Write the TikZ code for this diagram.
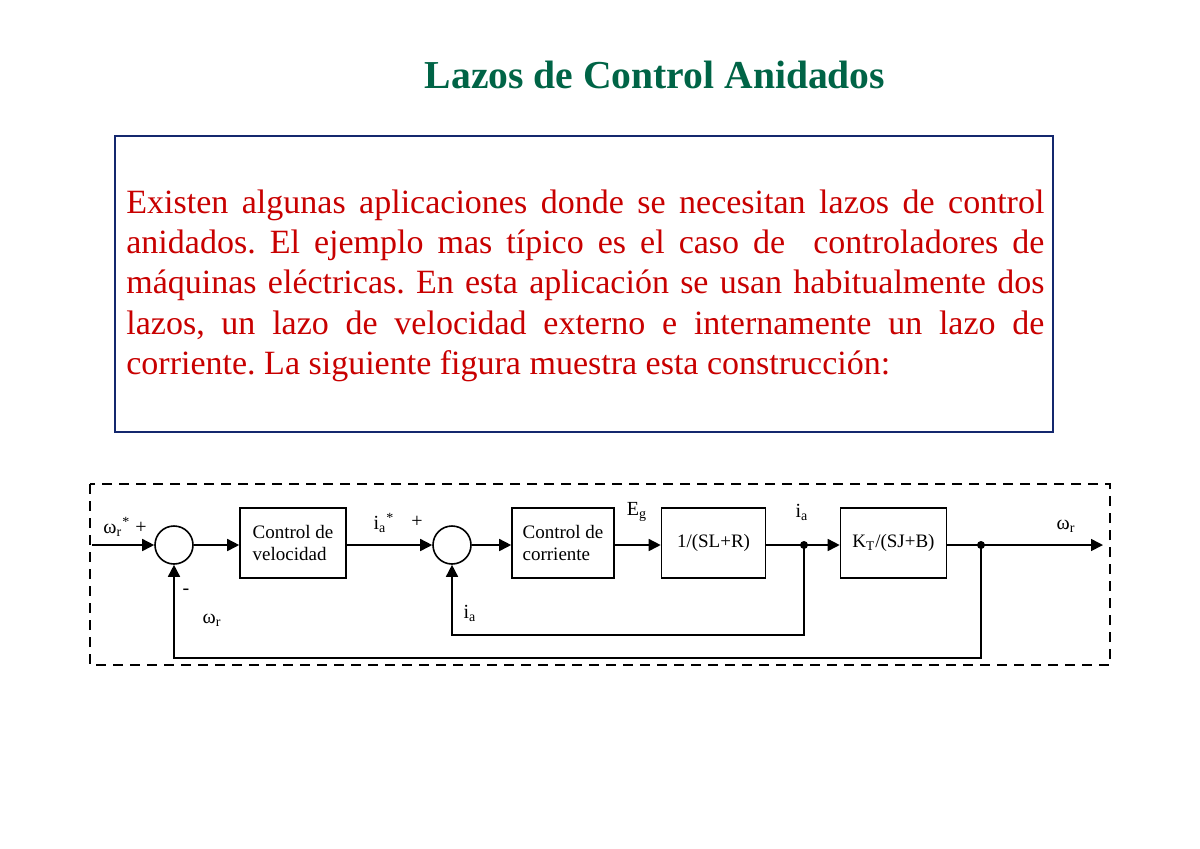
\documentclass[tikz,border=0pt]{standalone}
\usepackage{fontspec}
\setmainfont{Liberation Serif}
\usetikzlibrary{arrows.meta}
\definecolor{tgreen}{RGB}{0,100,70}
\definecolor{tred}{RGB}{200,0,0}
\definecolor{tnavy}{RGB}{20,40,110}
\frenchspacing
\begin{document}
\begin{tikzpicture}[x=0.5pt,y=-0.5pt,
  blk/.style={draw,line width=0.8pt,minimum width=53pt,minimum height=35pt,inner sep=1pt,font=\fontsize{9.5}{11}\selectfont,align=left},
  sumc/.style={draw,circle,line width=0.8pt,minimum size=19pt,inner sep=0pt},
  sig/.style={line width=0.8pt,-{Triangle[length=6pt,width=6pt]}},
  wire/.style={line width=0.8pt},
  lbl/.style={font=\fontsize{10}{12}\selectfont,inner sep=0pt}]
\useasboundingbox (0,0) rectangle (1200,848);
\node[font=\bfseries\fontsize{19.8}{22}\selectfont,text=tgreen] (title) at (655,75) {Lazos de Control Anidados};
\draw[tnavy,line width=1.3pt] (115,136) rectangle (1053,432);
\node[text=tred,font=\fontsize{17}{20.2}\selectfont,text width=459pt,align=justify,inner sep=0pt,anchor=north west] (body) at (126,189)
{Existen algunas aplicaciones donde se necesitan lazos de control\linebreak anidados. El ejemplo mas típico es el caso de\ \ controladores de\linebreak máquinas eléctricas. En esta aplicación se usan habitualmente dos\linebreak lazos, un lazo de velocidad externo e internamente un lazo de\linebreak corriente. La siguiente figura muestra esta construcción:};
\draw[dashed,line width=1.3pt,dash pattern=on 5pt off 3.5pt] (90,484) rectangle (1110,665);
\coordinate (in) at (92,545);
\node[sumc] (s1) at (174,545) {};
\node[blk,minimum width=53pt] (b1) at (293,543) {Control de\\velocidad};
\node[sumc] (s2) at (452,545) {};
\node[blk,minimum width=51pt] (b2) at (563,543) {Control de\\corriente};
\node[blk,minimum width=52pt] (b3) at (713.5,543) {1/(SL+R)};
\node[blk,minimum width=53pt] (b4) at (893.5,543) {K\textsubscript{T}/(SJ+B)};
\coordinate (d1) at (804,545);
\coordinate (d2) at (981,545);
\coordinate (out) at (1103,545);
\fill (d1) circle (2pt); \fill (d2) circle (2pt);
\draw[sig] (in) -- (s1);
\draw[sig] (s1) -- (b1.west |- s1);
\draw[sig] (b1.east |- s1) -- (s2);
\draw[sig] (s2) -- (b2.west |- s2);
\draw[sig] (b2.east |- s2) -- (b3.west |- s2);
\draw[wire] (b3.east |- s2) -- (d1);
\draw[sig] (d1) -- (b4.west |- d1);
\draw[wire] (b4.east |- d1) -- (d2);
\draw[sig] (d2) -- (out);
\coordinate (f1) at (804,635); \coordinate (f2) at (452,635);
\draw[sig] (d1) -- (f1) -- (f2) -- (s2);
\coordinate (g1) at (981,658); \coordinate (g2) at (174,658);
\draw[sig] (d2) -- (g1) -- (g2) -- (s1);
\node[lbl] (l1) at (125,527) {ω\textsubscript{r}\textsuperscript{*} +};
\node[lbl] (l2) at (186,592) {-};
\node[lbl] (l3) at (212,620) {ω\textsubscript{r}};
\node[lbl] (l4) at (380,523) {i\textsubscript{a}\rlap{\textsuperscript{*}}};
\node[lbl] (l5) at (417,522) {+};
\node[lbl] (l6) at (470,613) {i\textsubscript{a}};
\node[lbl] (l7) at (637,512) {E\textsubscript{g}};
\node[lbl] (l8) at (802,512) {i\textsubscript{a}};
\node[lbl] (l9) at (1066,526) {ω\textsubscript{r}};
\end{tikzpicture}
\end{document}
